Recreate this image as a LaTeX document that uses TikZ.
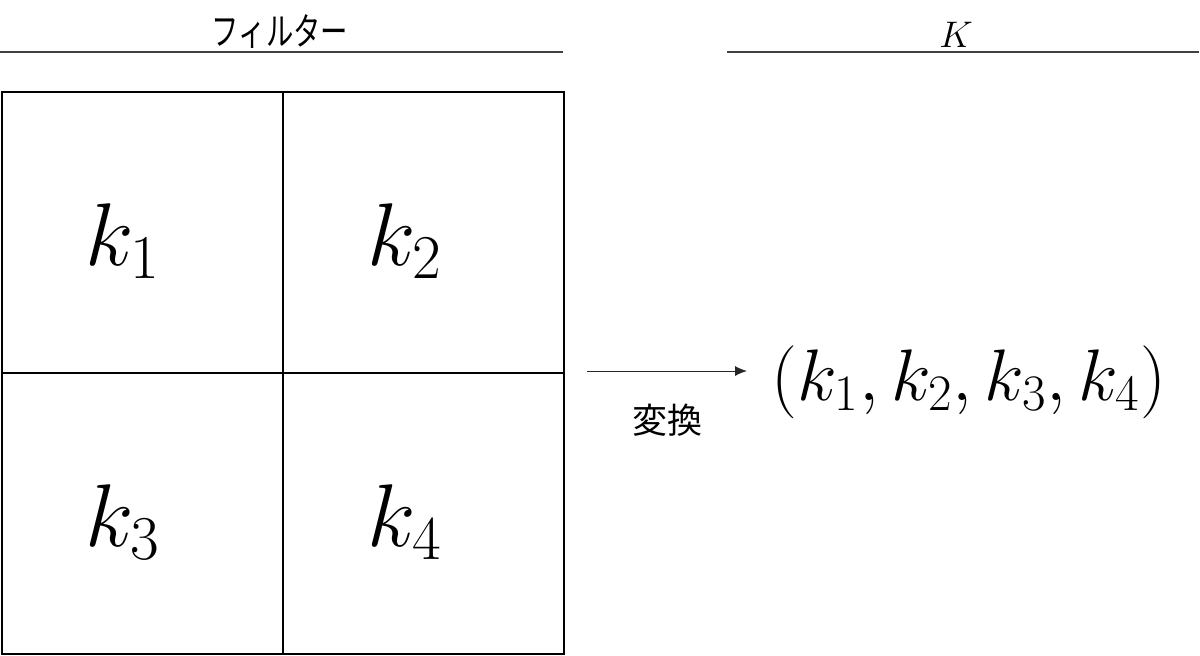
\RequirePackage{fix-cm}
\documentclass[tikz,border=0pt]{standalone}
\usepackage{fontspec}
\newfontfamily\jpfont{Noto Sans CJK JP}
\newfontfamily\jpnarrow[FakeStretch=0.72]{Noto Sans CJK JP}
\usetikzlibrary{arrows.meta}
\begin{document}
\begin{tikzpicture}[x=0.5pt,y=-0.5pt,
  cell/.style={draw=black,line width=1pt,minimum width=140.5pt,minimum height=140.5pt,inner sep=0pt,outer sep=0pt},
  bigk/.style={font=\fontsize{44.5}{50}\selectfont,inner sep=0pt,anchor=base},
  rule/.style={draw=black!75,line width=0.7pt},
  head/.style={inner sep=0pt,anchor=center},
  conv/.style={-{Latex[length=6pt,width=5pt]},line width=0.5pt,draw=black!85}]
\useasboundingbox (0,0) rectangle (1200,655);
% cells
\node[cell] (c1) at (142.5,232.5) {};
\node[cell] (c2) at (423,232.5) {};
\node[cell] (c3) at (142.5,513) {};
\node[cell] (c4) at (423,513) {};
% labels in cells
\node[bigk] (k1) at (123,265) {$k_1$};
\node[bigk] (k2) at (405,265) {$k_2$};
\node[bigk] (k3) at (123,546) {$k_3$};
\node[bigk] (k4) at (405,546) {$k_4$};
% headings
\node[head,font=\jpnarrow\fontsize{19}{22}\selectfont] (hf) at (280,32) {フィルター};
\coordinate (lf1) at (0,52);
\coordinate (lf2) at (563,52);
\draw[rule] (lf1) -- (lf2);
\node[inner sep=0pt,anchor=base,font=\fontsize{18.5}{22}\selectfont] (hk) at (956,47) {$K$};
\coordinate (lk1) at (727,52);
\coordinate (lk2) at (1199,52);
\draw[rule] (lk1) -- (lk2);
% arrow and result
\coordinate (a1) at (587,371);
\node[inner sep=0pt,anchor=base,font=\fontsize{36.5}{40}\selectfont] (tup) at (969,400) {$(k_1,k_2,k_3,k_4)$};
\coordinate (a2) at (747,371);
\draw[conv] (a1) -- (a2);
\node[head,font=\jpfont\fontsize{17.5}{20}\selectfont] (tr) at (667,420) {変換};
\end{tikzpicture}
\end{document}
